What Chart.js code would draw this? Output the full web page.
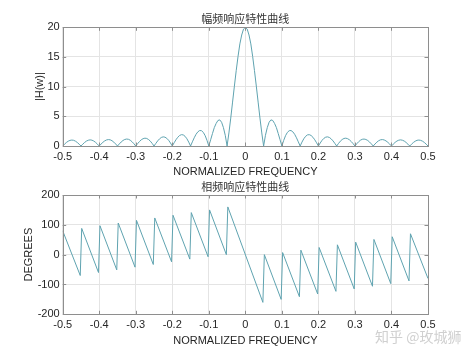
<!DOCTYPE html>
<html><head><meta charset="utf-8">
<script src="https://cdn.jsdelivr.net/npm/chart.js@4.4.0/dist/chart.umd.min.js"></script>
<style>
html,body{margin:0;padding:0;background:#fff;}
#wrap{position:relative;width:474px;height:355px;overflow:hidden;background:#fff;}
canvas{position:absolute;left:0;top:0;}
#wm{position:absolute;left:375px;top:327px;font:14px "Noto Sans CJK SC",sans-serif;color:#d0d0d0;white-space:nowrap;line-height:18px;}
</style></head><body>
<div id="wrap">
<canvas id="c1" width="474" height="355"></canvas>
<canvas id="c2" width="474" height="355"></canvas>
<div id="wm">知乎 @玫城狮</div>
</div>
<script>
// ---- data ----
const topTitle = '幅频响应特性曲线';
const bottomTitle = '相频响应特性曲线';
const xTitle = 'NORMALIZED FREQUENCY';
const magYTitle = '|H(w)|';
const phaseYTitle = 'DEGREES';

const xTickValues = [-0.5,-0.4,-0.3,-0.2,-0.1,0,0.1,0.2,0.3,0.4,0.5];
const xTickLabels = ['-0.5','-0.4','-0.3','-0.2','-0.1','0','0.1','0.2','0.3','0.4','0.5'];
const magTickValues = [0,5,10,15,20];
const magTickLabels = ['0','5','10','15','20'];
const phaseTickValues = [-200,-100,0,100,200];
const phaseTickLabels = ['-200','-100','0','100','200'];

// frequency grid for |H(w)|: -0.5 .. 0.5, step 0.005
const magStart = -0.5, magStep = 0.005;
const magValues = [
 0,0.31,0.59,0.81,0.95,1.00,0.96,0.81,0.59,0.31,
 0,0.31,0.60,0.83,0.97,1.03,0.98,0.84,0.61,0.32,
 0,0.33,0.62,0.86,1.02,1.08,1.04,0.89,0.65,0.34,
 0,0.35,0.67,0.93,1.10,1.17,1.13,0.97,0.71,0.38,
 0,0.39,0.74,1.04,1.23,1.32,1.27,1.09,0.81,0.43,
 0,0.44,0.86,1.20,1.44,1.54,1.49,1.29,0.96,0.51,
 0,0.54,1.05,1.47,1.77,1.91,1.87,1.63,1.22,0.66,
 0,0.70,1.38,1.97,2.39,2.61,2.58,2.29,1.74,0.95,
 0,1.05,2.1,3.1,3.8,4.3,4.4,4.0,3.1,1.8,
 0,2.2,4.7,7.4,10.1,12.7,15.1,17.2,18.7,19.7,
 20,
 19.7,18.7,17.2,15.1,12.7,10.1,7.4,4.7,2.2,0,
 1.8,3.1,4.0,4.4,4.3,3.8,3.1,2.1,1.05,0,
 0.95,1.74,2.29,2.58,2.61,2.39,1.97,1.38,0.70,0,
 0.66,1.22,1.63,1.87,1.91,1.77,1.47,1.05,0.54,0,
 0.51,0.96,1.29,1.49,1.54,1.44,1.20,0.86,0.44,0,
 0.43,0.81,1.09,1.27,1.32,1.23,1.04,0.74,0.39,0,
 0.38,0.71,0.97,1.13,1.17,1.10,0.93,0.67,0.35,0,
 0.34,0.65,0.89,1.04,1.08,1.02,0.86,0.62,0.33,0,
 0.32,0.61,0.84,0.98,1.03,0.97,0.83,0.60,0.31,0,
 0.31,0.59,0.81,0.96,1.00,0.95,0.81,0.59,0.31,0
];

// phase vertices (normalized frequency, degrees)
const phaseFreq = [-0.5,
 -0.452,-0.448,-0.402,-0.398,-0.352,-0.348,-0.302,-0.298,-0.252,-0.248,
 -0.202,-0.198,-0.152,-0.148,-0.102,-0.098,-0.052,-0.048,
 0.048,0.052,0.098,0.102,0.148,0.152,0.198,0.202,0.248,0.252,
 0.298,0.302,0.348,0.352,0.398,0.402,0.448,0.452,0.5];
const phaseDeg = [80,
 -70,88,-60,97,-51,106,-42,115,-33,123,
 -24,132,-15,141,-7,150,0,160,
 -160,0,-150,7,-141,15,-132,24,-123,33,
 -115,42,-106,51,-97,60,-88,70,-80];

// ---- drawing ----
const FONT = '"Liberation Sans", Arial, Helvetica, sans-serif';
const LINE = '#5fa3b0';
const BOX = '#8e8e8e';
const GRID = '#e4e4e4';
const TXT = '#262626';

const boxPlugin = {
  id: 'matlabBox',
  afterDraw(chart, args, opts) {
    const {ctx, chartArea: a, scales} = chart;
    ctx.save();
    ctx.strokeStyle = BOX;
    ctx.lineWidth = 1;
    ctx.strokeRect(Math.round(a.left) + 0.5, Math.round(a.top) + 0.5,
                   Math.round(a.right - a.left), Math.round(a.bottom - a.top));
    const tl = 3.5;
    ctx.beginPath();
    scales.x.ticks.forEach(t => {
      const px = Math.round(scales.x.getPixelForValue(t.value)) + 0.5;
      ctx.moveTo(px, a.bottom); ctx.lineTo(px, a.bottom - tl);
      ctx.moveTo(px, a.top); ctx.lineTo(px, a.top + tl);
    });
    scales.y.ticks.forEach(t => {
      const py = Math.round(scales.y.getPixelForValue(t.value)) + 0.5;
      ctx.moveTo(a.left, py); ctx.lineTo(a.left + tl, py);
      ctx.moveTo(a.right, py); ctx.lineTo(a.right - tl, py);
    });
    ctx.stroke();
    // axes title, centred over the plot box like MATLAB
    ctx.fillStyle = '#333';
    ctx.font = '11px "Noto Sans CJK SC", sans-serif';
    ctx.textAlign = 'center';
    ctx.textBaseline = 'middle';
    ctx.fillText(opts.text, (a.left + a.right) / 2, a.top - 8);
    ctx.restore();
  }
};

function makeChart(id, points, title, yTitle, yMin, yMax, yVals, yLabels, padTop, padBottom, padLeft) {
  return new Chart(document.getElementById(id), {
    type: 'line',
    data: { datasets: [{ data: points, borderColor: LINE, borderWidth: 1, pointRadius: 0, tension: 0, fill: false }] },
    options: {
      responsive: false, animation: false, parsing: false, normalized: true,
      layout: { padding: { top: padTop, bottom: padBottom, left: padLeft, right: 46 } },
      plugins: {
        legend: { display: false }, tooltip: { enabled: false },
        title: { display: false },
        matlabBox: { text: title }
      },
      scales: {
        x: {
          type: 'linear', min: -0.5, max: 0.5,
          afterBuildTicks: s => { s.ticks = xTickValues.map(v => ({ value: v })); },
          afterFit: s => { s.height = 33; },
          ticks: { callback: (v, i) => xTickLabels[i], color: TXT, font: { family: FONT, size: 11 }, padding: 4, maxRotation: 0, autoSkip: false },
          grid: { color: GRID, drawTicks: false },
          border: { display: false },
          title: { display: true, text: xTitle, color: TXT, font: { family: FONT, size: 11 }, padding: { top: 0, bottom: 0 } }
        },
        y: {
          type: 'linear', min: yMin, max: yMax,
          afterBuildTicks: s => { s.ticks = yVals.map(v => ({ value: v })); },
          afterFit: s => { s.width = 62.7 - padLeft; },
          ticks: { callback: (v, i) => yLabels[i], color: TXT, font: { family: FONT, size: 11 }, padding: 3, autoSkip: false },
          grid: { color: GRID, drawTicks: false },
          border: { display: false },
          title: { display: true, text: yTitle, color: TXT, font: { family: FONT, size: 11 }, padding: { top: 0, bottom: 0 } }
        }
      }
    },
    plugins: [boxPlugin]
  });
}

const magPoints = magValues.map((v, i) => ({ x: magStart + i * magStep, y: v }));
const phasePoints = phaseFreq.map((f, i) => ({ x: f, y: phaseDeg[i] }));

makeChart('c1', magPoints, topTitle, magYTitle, 0, 20, magTickValues, magTickLabels, 27.3, 176, 33);
makeChart('c2', phasePoints, bottomTitle, phaseYTitle, -200, 200, phaseTickValues, phaseTickLabels, 195, 7.7, 22);
</script>
</body></html>
